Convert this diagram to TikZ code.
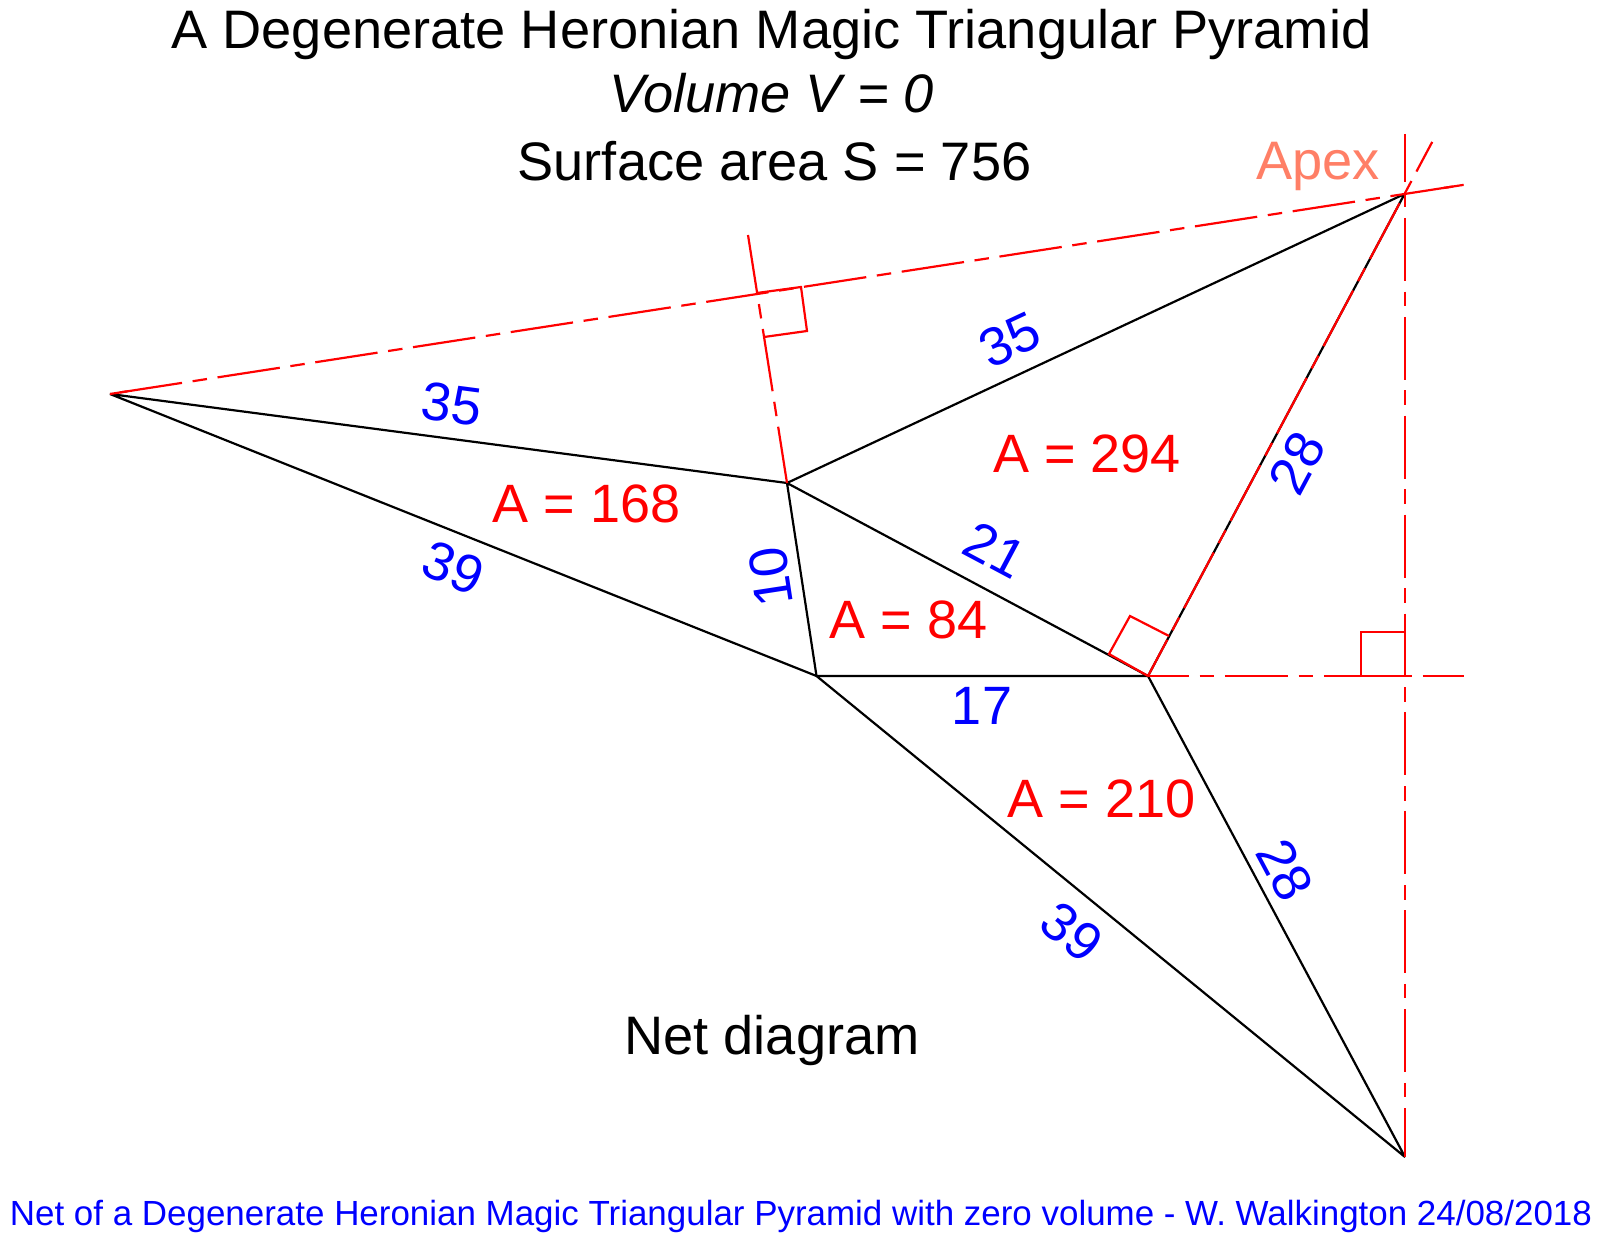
\documentclass[tikz,border=0pt]{standalone}
\usepackage{fontspec}
\setmainfont{Liberation Sans}
\usetikzlibrary{calc,positioning}
\definecolor{apexred}{RGB}{255,127,102}
\tikzstyle{netline}=[draw,black,line width=1.1pt,line join=bevel]
\tikzstyle{sqline}=[draw,red,line width=1.1pt]
\tikzstyle{cenline}=[draw,red,line width=1.1pt,dash pattern=on 31.5pt off 5.35pt on 7.25pt off 5.35pt]
\tikzstyle{title}=[black,inner sep=0pt,anchor=base,font=\fontsize{27.1}{30}\selectfont]
\tikzstyle{area}=[red,inner sep=0pt,anchor=base,font=\fontsize{27}{30}\selectfont]
\tikzstyle{edge}=[blue,inner sep=0pt,font=\fontsize{27}{30}\selectfont]

\begin{document}
\begin{tikzpicture}[x=0.5pt,y=-0.5pt]
  \useasboundingbox (0,0) rectangle (1600,1245);
  \coordinate (lft) at (110,394);
  \coordinate (mid) at (787,483);
  \coordinate (low) at (816.5,676);
  \coordinate (rgt) at (1148,676);
  \coordinate (apex) at (1404.5,194);
  \coordinate (bot) at (1405,1157);
  \coordinate (foot) at (757,293);
  \coordinate (perptop) at (748,235);
  \coordinate (topend) at ($(lft)!1.0456!(apex)$);
  \coordinate (rgtend) at (1464,676);
  \coordinate (upend) at ($(rgt)!1.108!(apex)$);
  \coordinate (vtop) at (1405,134);
  \coordinate (vfoot) at (1405,676);
  \draw[netline] (lft) -- (mid) -- (apex) -- (rgt) -- (bot) -- (low) -- cycle;
  \draw[netline] (mid) -- (low) -- (rgt) -- cycle;
  \draw[cenline,dash phase=44.5pt] (lft) -- (topend);
  \draw[sqline] (lft) -- ($(lft)!9pt!(apex)$);
  \draw[sqline] ($(lft)!1.03!(apex)$) -- (topend);
  \draw[cenline,dash phase=3pt] (mid) -- (perptop);
  \draw[cenline,dash phase=11pt] (rgt) -- (rgtend);
  \draw[cenline,dash phase=11pt] (rgt) -- (upend);
  \draw[cenline,dash phase=7.5pt] (vtop) -- (bot);
  \draw[sqline] (foot) -- (801,287) -- (807,331) -- (764,337);
  \draw[sqline] (rgt) -- (1109,654) -- (1130,616) -- (1169,636);
  \draw[sqline] (vfoot) -- (1361,676) -- (1361,632) -- (1405,632) -- (vfoot);
  \node[title] (main) at (771.5,49) {A Degenerate Heronian Magic Triangular Pyramid};
  \node[title] (volume) at (771.5,113) {\itshape Volume V = 0};
  \node[title] (surface) at (774.5,181) {Surface area S = 756};
  \node[title,apexred] (apexlabel) at (1318,180) {Apex};
  \node[title] (net) at (772,1054) {Net diagram};
  \node[area] (a168) at (586.5,523) {A = 168};
  \node[area] (a294) at (1087,473) {A = 294};
  \node[area] (a84) at (908.5,638) {A = 84};
  \node[area] (a210) at (1101.5,817) {A = 210};
  \node[edge,rotate=-7.5] (e35a) at (452,404) {35};
  \node[edge,rotate=25] (e35b) at (1010,340) {35};
  \node[edge,rotate=-22] (e39a) at (453,568) {39};
  \node[edge,rotate=-39] (e39b) at (1072,932) {39};
  \node[edge,rotate=98.7] (e10) at (771,577) {10};
  \node[edge,rotate=-28] (e21) at (995,550) {21};
  \node[edge] (e17) at (982,706) {17};
  \node[edge,rotate=62] (e28a) at (1297,463) {28};
  \node[edge,rotate=-62] (e28b) at (1285,870) {28};
  \node[blue,inner sep=0pt,anchor=base,font=\fontsize{17.47}{20}\selectfont] (credit) at (801,1225)
    {Net of a Degenerate Heronian Magic Triangular Pyramid with zero volume - W. Walkington 24/08/2018};
\end{tikzpicture}
\end{document}
